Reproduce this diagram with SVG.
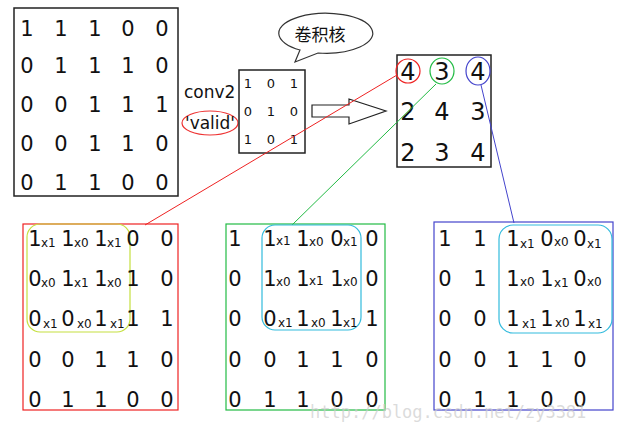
<svg xmlns="http://www.w3.org/2000/svg" width="631" height="434" viewBox="0 0 631 434">
<style>
text{font-family:"DejaVu Sans",Verdana,sans-serif;fill:#111}
.d{font-size:21px;text-anchor:middle}
.s{font-size:12px}
.k{font-size:13px;text-anchor:middle}
.r{font-size:24px;text-anchor:middle}
.box{fill:#fff;stroke:#222;stroke-width:1.5}
</style>
<rect width="631" height="434" fill="#fff"/>
<g id="input">
<rect class="box" x="14" y="8" width="164" height="188"/>
<g class="d">
<text x="27" y="36">1</text><text x="61" y="36">1</text><text x="95" y="36">1</text><text x="128" y="36">0</text><text x="162" y="36">0</text>
<text x="27" y="73">0</text><text x="61" y="73">1</text><text x="95" y="73">1</text><text x="128" y="73">1</text><text x="162" y="73">0</text>
<text x="27" y="112">0</text><text x="61" y="112">0</text><text x="95" y="112">1</text><text x="128" y="112">1</text><text x="162" y="112">1</text>
<text x="27" y="151">0</text><text x="61" y="151">0</text><text x="95" y="151">1</text><text x="128" y="151">1</text><text x="162" y="151">0</text>
<text x="27" y="190">0</text><text x="61" y="190">1</text><text x="95" y="190">1</text><text x="128" y="190">0</text><text x="162" y="190">0</text>
</g>
</g>
<g id="label">
<text x="184" y="98" style="font-size:17px">conv2</text>
<ellipse cx="210" cy="123" rx="28" ry="12" fill="none" stroke="#e33" stroke-width="1.2"/>
<text x="210" y="129" style="font-size:17px" text-anchor="middle">'valid'</text>
</g>
<g id="bubble">
<path d="M300 50 A47 20 0 1 1 318 53 L295 62 Z" fill="#fff" stroke="#333" stroke-width="1.2"/>
<text x="320" y="41" style="font-size:17px;font-family:'Noto Sans CJK SC',sans-serif" text-anchor="middle">卷积核</text>
</g>
<g id="kernel">
<rect class="box" x="239" y="70" width="66" height="83"/>
<g class="k">
<text x="248" y="88">1</text><text x="271" y="88">0</text><text x="294" y="88">1</text>
<text x="248" y="116">0</text><text x="271" y="116">1</text><text x="294" y="116">0</text>
<text x="248" y="144">1</text><text x="271" y="144">0</text><text x="294" y="144">1</text>
</g>
</g>
<g id="arrow">
<path d="M312 105 L349 105 L349 99 L386 111 L349 124 L349 117 L312 117 Z" fill="#fff" stroke="#222" stroke-width="1.2"/>
</g>
<g id="result">
<rect class="box" x="397" y="55" width="94" height="112"/>
<g class="r">
<text x="408" y="80">4</text><text x="442" y="80">3</text><text x="478" y="80">4</text>
<text x="408" y="120">2</text><text x="442" y="120">4</text><text x="478" y="120">3</text>
<text x="408" y="161">2</text><text x="442" y="161">3</text><text x="478" y="161">4</text>
</g>
<circle cx="408" cy="71" r="12" fill="none" stroke="#e22" stroke-width="1.2"/>
<ellipse cx="442" cy="71" rx="12" ry="13" fill="none" stroke="#2b4" stroke-width="1.2"/>
<ellipse cx="478" cy="71" rx="12" ry="14" fill="none" stroke="#44c" stroke-width="1.2"/>
</g>
<g id="connectors" fill="none" stroke-width="1">
<line x1="397" y1="75" x2="145" y2="225" stroke="#e22"/>
<line x1="436" y1="84" x2="292" y2="225" stroke="#2b4"/>
<line x1="481" y1="85" x2="514" y2="223" stroke="#44c"/>
</g>
<g id="red-matrix">
<rect x="23" y="224" width="155" height="186" fill="none" stroke="#e22" stroke-width="1.2"/>
<rect x="27" y="224" width="103" height="108" rx="13" fill="none" stroke="#c5e040" stroke-width="1.2"/>
<g class="d">
<text x="35" y="246">1</text><text x="68" y="246">1</text><text x="101" y="246">1</text><text x="133" y="246">0</text><text x="167" y="246">0</text>
<text x="35" y="286">0</text><text x="68" y="286">1</text><text x="101" y="286">1</text><text x="133" y="286">1</text><text x="167" y="286">0</text>
<text x="35" y="326">0</text><text x="68" y="326">0</text><text x="101" y="326">1</text><text x="133" y="326">1</text><text x="167" y="326">1</text>
<text x="35" y="367">0</text><text x="68" y="367">0</text><text x="101" y="367">1</text><text x="133" y="367">1</text><text x="167" y="367">0</text>
<text x="35" y="407">0</text><text x="68" y="407">1</text><text x="101" y="407">1</text><text x="133" y="407">0</text><text x="167" y="407">0</text>
</g>
<g class="s">
<text x="41" y="247">x1</text><text x="74" y="247">x0</text><text x="107" y="247">x1</text>
<text x="41" y="287">x0</text><text x="74" y="287">x1</text><text x="107" y="287">x0</text>
<text x="43" y="328">x1</text><text x="77" y="328">x0</text><text x="110" y="328">x1</text>
</g>
</g>
<g id="green-matrix">
<rect x="226" y="224" width="159" height="186" fill="none" stroke="#2b4" stroke-width="1.2"/>
<rect x="262" y="225" width="99" height="105" rx="13" fill="none" stroke="#3bd" stroke-width="1.2"/>
<g class="d">
<text x="235" y="246">1</text><text x="270" y="246">1</text><text x="303" y="246">1</text><text x="337" y="246">0</text><text x="372" y="246">0</text>
<text x="235" y="286">0</text><text x="270" y="286">1</text><text x="303" y="286">1</text><text x="337" y="286">1</text><text x="372" y="286">0</text>
<text x="235" y="326">0</text><text x="270" y="326">0</text><text x="303" y="326">1</text><text x="337" y="326">1</text><text x="372" y="326">1</text>
<text x="235" y="367">0</text><text x="270" y="367">0</text><text x="303" y="367">1</text><text x="337" y="367">1</text><text x="372" y="367">0</text>
<text x="235" y="407">0</text><text x="270" y="407">1</text><text x="303" y="407">1</text><text x="337" y="407">0</text><text x="372" y="407">0</text>
</g>
<g class="s">
<text x="276" y="245">x1</text><text x="309" y="246">x0</text><text x="343" y="246">x1</text>
<text x="276" y="286">x0</text><text x="309" y="285">x1</text><text x="343" y="286">x0</text>
<text x="278" y="327">x1</text><text x="311" y="327">x0</text><text x="343" y="327">x1</text>
</g>
</g>
<g id="blue-matrix">
<rect x="434" y="222" width="179" height="188" fill="none" stroke="#44c" stroke-width="1.2"/>
<rect x="499" y="225" width="113" height="108" rx="14" fill="none" stroke="#3bd" stroke-width="1.2"/>
<g class="d">
<text x="445" y="246">1</text><text x="480" y="246">1</text><text x="513" y="246">1</text><text x="547" y="246">0</text><text x="580" y="246">0</text>
<text x="445" y="286">0</text><text x="480" y="286">1</text><text x="513" y="286">1</text><text x="547" y="286">1</text><text x="580" y="286">0</text>
<text x="445" y="326">0</text><text x="480" y="326">0</text><text x="513" y="326">1</text><text x="547" y="326">1</text><text x="580" y="326">1</text>
<text x="445" y="367">0</text><text x="480" y="367">0</text><text x="513" y="367">1</text><text x="547" y="367">1</text><text x="580" y="367">0</text>
<text x="445" y="407">0</text><text x="480" y="407">1</text><text x="513" y="407">1</text><text x="547" y="407">0</text><text x="580" y="407">0</text>
</g>
<g class="s">
<text x="520" y="248">x1</text><text x="554" y="246">x0</text><text x="587" y="248">x1</text>
<text x="520" y="286">x0</text><text x="554" y="287">x1</text><text x="587" y="286">x0</text>
<text x="522" y="328">x1</text><text x="555" y="327">x0</text><text x="588" y="328">x1</text>
</g>
</g>
<text x="310" y="418" style="font-size:17px;font-family:'DejaVu Sans Mono',monospace;fill:#ccc;fill-opacity:0.7">http://blog.csdn.net/zy3381</text>
</svg>
